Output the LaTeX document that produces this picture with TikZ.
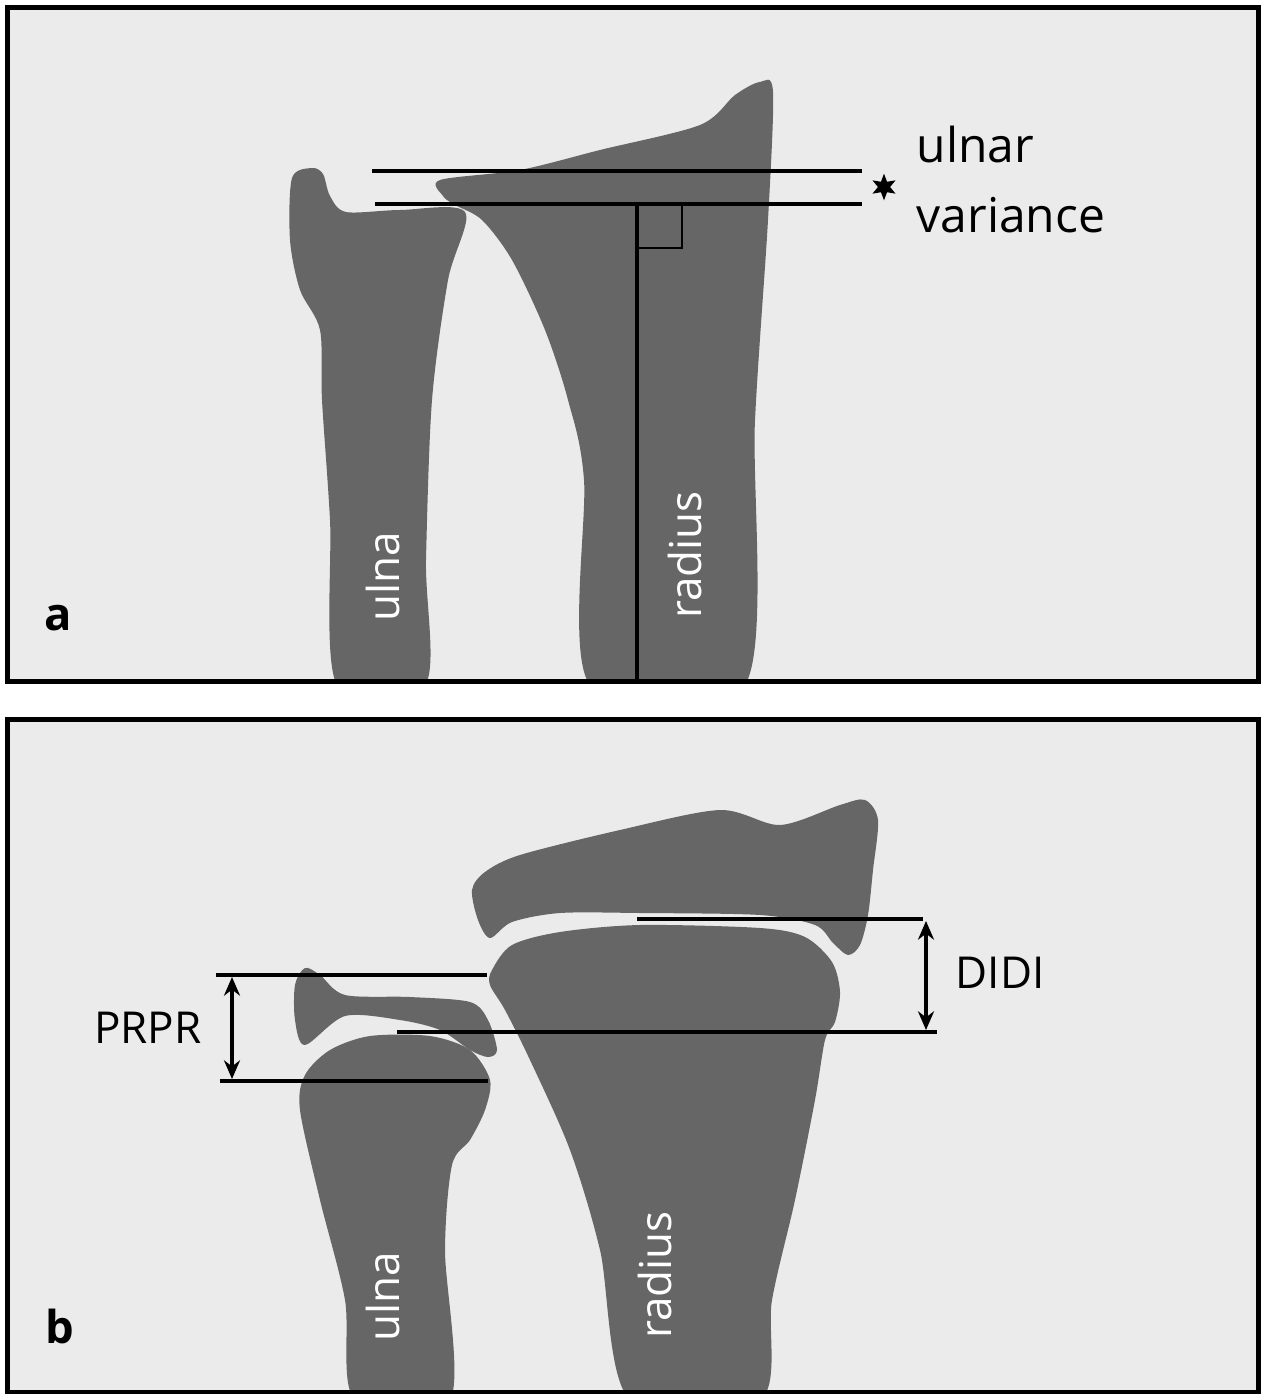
\documentclass[tikz,border=0pt]{standalone}
\usepackage{fontspec}
\setmainfont{Open Sans}
\usetikzlibrary{arrows.meta,shapes.geometric}
\begin{document}
\begin{tikzpicture}[x=0.75pt,y=-0.75pt,
  panel/.style={fill=black!8,draw=black,line width=3.5pt},
  bone/.style={fill=black!60,draw=none},
  meas/.style={line width=2.6pt},
  dim/.style={line width=2.6pt,{Stealth[length=14pt,width=12pt]}-{Stealth[length=14pt,width=12pt]}},
  lbl/.style={font=\fontsize{36}{40}\selectfont,anchor=west},
  bonelbl/.style={font=\fontsize{33}{36}\selectfont,text=white,rotate=90},
  plab/.style={font=\fontsize{34}{38}\selectfont\bfseries}]
\useasboundingbox (0,0) rectangle (1260,1394);
% panel a
\node[panel,minimum width=1251*0.75pt,minimum height=674*0.75pt,anchor=north west,inner sep=0] (pa) at (5,5) {};
\begin{scope}
\clip (5,5) rectangle (1256,679);
\fill[bone] plot[smooth cycle,tension=0.5] coordinates {(292,178)(312,168)(323,174)(330,196)(346,212)(400,210)(465,212)(448,280)(432,400)(426,560)(425,685)(337,685)(330,520)(322,400)(320,330)(300,290)(290,240)};
\fill[bone] plot[smooth cycle,tension=0.5] coordinates {(440,180)(520,170)(600,150)(700,125)(735,95)(760,82)(773,92)(768,220)(755,420)(745,685)(590,685)(584,480)(568,400)(545,330)(512,260)(482,220)(455,205)(443,196)};
\end{scope}
\node[panel,fill=none,minimum width=1251*0.75pt,minimum height=674*0.75pt,anchor=north west,inner sep=0] (pa2) at (5,5) {};
\coordinate (l1a) at (372,171); \coordinate (l1b) at (862,171);
\coordinate (l2a) at (375,204); \coordinate (l2b) at (862,204);
\coordinate (va) at (637,204); \coordinate (vb) at (637,679);
\draw[meas] (l1a) -- (l1b);
\draw[meas] (l2a) -- (l2b);
\draw[meas] (va) -- (vb);
\draw[line width=2pt] (637,248) -- (682,248) -- (682,204);
\node[star,star points=6,star point ratio=2.2,fill=black,inner sep=0,minimum size=20pt] (star) at (884,187) {};
\node[lbl] (t1) at (912,145) {ulnar};
\node[lbl] (t2) at (912,215) {variance};
\node[plab] (la) at (58,618) {a};
\node[bonelbl] (ua) at (383,577) {ulna};
\node[bonelbl] (ra) at (685,555) {radius};
% panel b
\node[panel,minimum width=1251*0.75pt,minimum height=673*0.75pt,anchor=north west,inner sep=0] (pb) at (5,717) {};
\begin{scope}
\clip (5,717) rectangle (1256,1390);
\fill[bone] plot[smooth cycle,tension=0.5] coordinates {(305,1075)(330,1050)(370,1036)(430,1036)(470,1050)(490,1080)(485,1110)(470,1140)(452,1165)(445,1250)(450,1400)(355,1400)(345,1300)(320,1200)(300,1110)};
\fill[bone] plot[smooth cycle,tension=0.5] coordinates {(295,985)(305,968)(320,975)(345,995)(410,997)(470,1002)(488,1020)(497,1050)(488,1057)(470,1050)(440,1030)(400,1020)(345,1016)(305,1045)(295,1020)};
\fill[bone] plot[smooth cycle,tension=0.5] coordinates {(492,970)(512,945)(560,932)(640,925)(760,928)(805,937)(832,962)(840,992)(835,1022)(825,1040)(815,1100)(795,1200)(772,1300)(760,1400)(630,1400)(600,1250)(570,1150)(530,1060)(505,1010)(490,985)};
\fill[bone] plot[smooth cycle,tension=0.5] coordinates {(472,890)(485,872)(520,855)(620,830)(720,810)(780,825)(840,805)(865,800)(878,820)(873,870)(868,915)(860,945)(848,955)(833,943)(815,925)(760,915)(640,913)(560,913)(512,922)(490,938)(478,920)};
\end{scope}
\node[panel,fill=none,minimum width=1251*0.75pt,minimum height=673*0.75pt,anchor=north west,inner sep=0] (pb2) at (5,717) {};
\coordinate (p1a) at (216,975); \coordinate (p1b) at (487,975);
\coordinate (p2a) at (220,1081); \coordinate (p2b) at (488,1081);
\coordinate (d1a) at (637,919); \coordinate (d1b) at (923,919);
\coordinate (d2a) at (397,1032); \coordinate (d2b) at (937,1032);
\draw[meas] (p1a) -- (p1b);
\draw[meas] (p2a) -- (p2b);
\draw[meas] (d1a) -- (d1b);
\draw[meas] (d2a) -- (d2b);
\coordinate (ap1) at (232,977); \coordinate (ap2) at (232,1079);
\coordinate (ad1) at (926,921); \coordinate (ad2) at (926,1030);
\draw[dim] (ap1) -- (ap2);
\draw[dim] (ad1) -- (ad2);
\node[font=\fontsize{33}{36}\selectfont] (prpr) at (148,1028) {PRPR};
\node[font=\fontsize{33}{36}\selectfont] (didi) at (1000,973) {DIDI};
\node[plab] (lb) at (60,1326) {b};
\node[bonelbl] (ub) at (383,1297) {ulna};
\node[bonelbl] (rb) at (655,1275) {radius};
\end{tikzpicture}
\end{document}
